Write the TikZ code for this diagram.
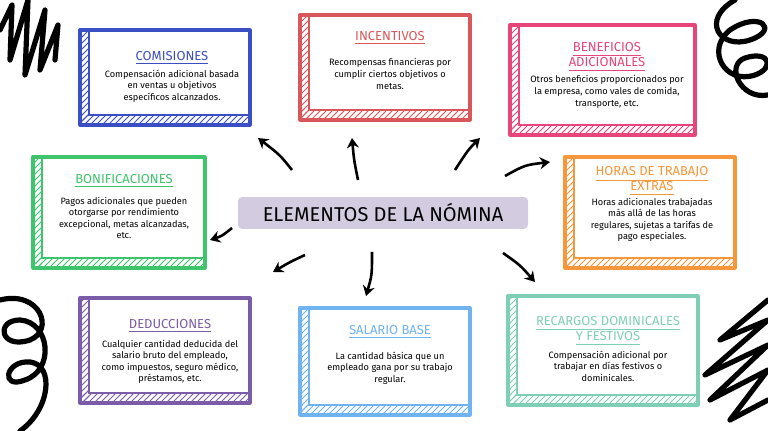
\documentclass[tikz,border=0pt]{standalone}
\usepackage{fontspec}
\setmainfont{Fira Sans}
\usetikzlibrary{patterns,arrows.meta}
\definecolor{cblue}{HTML}{3B4FC4}
\definecolor{cred}{HTML}{D9575A}
\definecolor{cpink}{HTML}{E8457A}
\definecolor{cgreen}{HTML}{3EC46A}
\definecolor{corange}{HTML}{F5973A}
\definecolor{cpurple}{HTML}{7B5CA8}
\definecolor{clblue}{HTML}{6FB3F0}
\definecolor{cteal}{HTML}{7FCFB6}
\definecolor{clav}{HTML}{D3CCE0}
\tikzset{
 ttl/.style={font=\fontsize{6.5}{7.5}\selectfont, align=center, inner sep=1pt},
 bdy/.style={font=\fontsize{4.6}{5.8}\selectfont, align=center, inner sep=0pt},
 arr/.style={-{Stealth[length=5pt,width=6pt]}, line width=1.3pt, black},
 scr/.style={line width=2.6pt, black, line cap=round, line join=round}
}
% x0 y0 x1 y1 color
\newcommand\mybox[5]{%
 \fill[white] (#1,#2) rectangle (#3,#4);
 \fill[pattern=north east lines, pattern color=#5] (#1,#4-10) rectangle (#3,#4);
 \fill[pattern=north east lines, pattern color=#5] (#1,#2) rectangle (#1+9,#4);
 \draw[#5, line width=1.6pt, line join=round] (#1,#2) rectangle (#3,#4);
 \draw[#5, line width=1pt] (#1+9,#2) -- (#1+9,#4-10) -- (#3,#4-10);
}
\begin{document}
\begin{tikzpicture}[x=0.5pt,y=-0.5pt]
\useasboundingbox (0,0) rectangle (768,431);
\fill[white] (0,0) rectangle (768,431);
% scribbles
\draw[scr] (0,30) -- (12,5) -- (10,60) -- (28,0) -- (25,75) -- (45,10) -- (40,70) -- (58,25) -- (55,60);
\draw[scr] (735,0) .. controls (700,20) and (720,50) .. (750,40) .. controls (780,30) and (760,10) .. (730,30) .. controls (705,50) and (725,85) .. (755,75) .. controls (775,68) and (770,50) .. (745,58) .. controls (725,65) and (740,100) .. (768,95);
\draw[scr] (0,300) .. controls (40,290) and (55,330) .. (30,340) .. controls (0,350) and (-5,320) .. (20,320) .. controls (50,322) and (55,370) .. (25,380) .. controls (0,390) and (5,360) .. (30,362) .. controls (55,365) and (50,410) .. (20,431);
\draw[scr] (768,300) -- (720,340) -- (768,320) -- (705,375) -- (768,345) -- (710,400) -- (768,370) -- (730,420) -- (768,400);
% boxes
\mybox{80}{30}{250}{125}{cblue}
\mybox{300}{15}{470}{120}{cred}
\mybox{510}{25}{695}{135}{cpink}
\mybox{33}{157}{205}{268}{cgreen}
\mybox{565}{157}{735}{268}{corange}
\mybox{80}{298}{250}{403}{cpurple}
\mybox{300}{308}{470}{415}{clblue}
\mybox{508}{296}{698}{405}{cteal}
% titles and bodies
\node[ttl,text=cblue] (t1) at (172,58) {\underline{COMISIONES}};
\node[bdy] (b1) at (172,86) {Compensación adicional basada\\en ventas u objetivos\\específicos alcanzados.};
\node[ttl,text=cred] (t2) at (390,38) {\underline{INCENTIVOS}};
\node[bdy] (b2) at (390,74) {Recompensas financieras por\\cumplir ciertos objetivos o\\metas.};
\node[ttl,text=cpink] (t3) at (607,57) {\underline{BENEFICIOS}\\\underline{ADICIONALES}};
\node[bdy] (b3) at (607,92) {Otros beneficios proporcionados por\\la empresa, como vales de comida,\\transporte, etc.};
\node[ttl,text=cgreen] (t4) at (124,181) {\underline{BONIFICACIONES}};
\node[bdy] (b4) at (124,218) {Pagos adicionales que pueden\\otorgarse por rendimiento\\excepcional, metas alcanzadas,\\etc.};
\node[ttl,text=corange] (t5) at (652,181) {\underline{HORAS DE TRABAJO}\\\underline{EXTRAS}};
\node[bdy] (b5) at (652,220) {Horas adicionales trabajadas\\más allá de las horas\\regulares, sujetas a tarifas de\\pago especiales.};
\node[ttl,text=cpurple] (t6) at (170,326) {\underline{DEDUCCIONES}};
\node[bdy] (b6) at (170,362) {Cualquier cantidad deducida del\\salario bruto del empleado,\\como impuestos, seguro médico,\\préstamos, etc.};
\node[ttl,text=clblue] (t7) at (390,332) {\underline{SALARIO BASE}};
\node[bdy] (b7) at (390,368) {La cantidad básica que un\\empleado gana por su trabajo\\regular.};
\node[ttl,text=cteal] (t8) at (608,331) {\underline{RECARGOS DOMINICALES}\\\underline{Y FESTIVOS}};
\node[bdy] (b8) at (608,366) {Compensación adicional por\\trabajar en días festivos o\\dominicales.};
% center
\node[fill=clav, rounded corners=2pt, minimum width=145pt, minimum height=15pt, font=\fontsize{10}{12}\selectfont] (c) at (383,213) {ELEMENTOS DE LA NÓMINA};
% arrows
\coordinate (s1) at (292,170); \coordinate (e1) at (258,138);
\coordinate (s2) at (358,180); \coordinate (e2) at (352,138);
\coordinate (s3) at (455,170); \coordinate (e3) at (480,138);
\coordinate (s4) at (505,176); \coordinate (e4) at (550,162);
\coordinate (s5) at (232,228); \coordinate (e5) at (210,240);
\coordinate (s6) at (305,255); \coordinate (e6) at (273,272);
\coordinate (s7) at (372,252); \coordinate (e7) at (366,296);
\coordinate (s8) at (503,253); \coordinate (e8) at (535,282);
\draw[arr] (s1) .. controls (280,155) .. (e1);
\draw[arr] (s2) .. controls (354,160) .. (e2);
\draw[arr] (s3) .. controls (468,150) .. (e3);
\draw[arr] (s4) .. controls (525,165) .. (e4);
\draw[arr] (s5) .. controls (222,236) .. (e5);
\draw[arr] (s6) .. controls (290,262) .. (e6);
\draw[arr] (s7) .. controls (372,275) .. (e7);
\draw[arr] (s8) .. controls (520,265) .. (e8);
\end{tikzpicture}
\end{document}
